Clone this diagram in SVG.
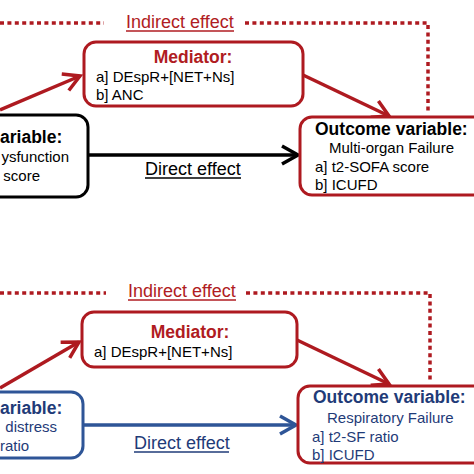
<svg xmlns="http://www.w3.org/2000/svg" width="474" height="474" viewBox="0 0 474 474">
<defs>
<style>
text{font-family:"Liberation Sans",Arial,sans-serif;}
.b{font-weight:bold;font-size:17.5px;}
.r{font-size:15px;}
.e{font-size:18px;}
.red{fill:#B01C22;}
.blk{fill:#000;}
.blu{fill:#1F3B78;}
.boxr{fill:#fff;stroke:#AE1A20;stroke-width:3;}
.boxk{fill:#fff;stroke:#000;stroke-width:3;}
.boxb{fill:#fff;stroke:#2E5597;stroke-width:3;}
.dot{fill:none;stroke:#AE1A20;stroke-width:3.5;stroke-dasharray:4 3.4;}
.ar{fill:none;stroke:#AE1A20;stroke-width:3.5;}
.ak{fill:none;stroke:#000;stroke-width:3.5;}
.ab{fill:none;stroke:#2E5597;stroke-width:3.5;}
.u{stroke-width:1.3;}
</style>
<marker id="mr" markerUnits="userSpaceOnUse" markerWidth="24" markerHeight="24" viewBox="0 0 24 24" refX="19" refY="12" orient="auto"><path d="M3,3 L19,12 L3,21" fill="none" stroke="#AE1A20" stroke-width="3.5"/></marker>
<marker id="mk" markerUnits="userSpaceOnUse" markerWidth="24" markerHeight="24" viewBox="0 0 24 24" refX="19" refY="12" orient="auto"><path d="M3,3 L19,12 L3,21" fill="none" stroke="#000" stroke-width="3.5"/></marker>
<marker id="mb" markerUnits="userSpaceOnUse" markerWidth="24" markerHeight="24" viewBox="0 0 24 24" refX="19" refY="12" orient="auto"><path d="M3,3 L19,12 L3,21" fill="none" stroke="#2E5597" stroke-width="3.5"/></marker>
</defs>
<rect width="474" height="474" fill="#fff"/>

<g id="connectors">
<path class="dot" d="M0,23 H104"/>
<path class="dot" d="M245,23 H428 V112"/>
<path class="ar" d="M0,110 L80,76" marker-end="url(#mr)"/>
<path class="ar" d="M303,75 L389,116" marker-end="url(#mr)"/>
<path class="ak" d="M88,155 L298,155" marker-end="url(#mk)"/>
<path class="dot" d="M0,293 H106"/>
<path class="dot" d="M246,293 H430 V380"/>
<path class="ar" d="M0,388 L79,342" marker-end="url(#mr)"/>
<path class="ar" d="M297,340 L389,384" marker-end="url(#mr)"/>
<path class="ab" d="M83,425 L296,425" marker-end="url(#mb)"/>
</g>

<g id="labels">
<text class="e red" x="126" y="28">Indirect effect</text>
<line x1="126" y1="31" x2="234" y2="31" stroke="#B01C22" class="u"/>
<text class="e blk" x="145" y="175">Direct effect</text>
<line x1="145" y1="178" x2="241" y2="178" stroke="#000" class="u"/>
<text class="e red" x="128" y="297">Indirect effect</text>
<line x1="128" y1="300" x2="236" y2="300" stroke="#B01C22" class="u"/>
<text class="e blu" x="134" y="449">Direct effect</text>
<line x1="134" y1="452" x2="229" y2="452" stroke="#1F3B78" class="u"/>
</g>

<g id="mediator1">
<rect class="boxr" x="84" y="42" width="219" height="64" rx="12"/>
<text class="b red" x="193" y="63" text-anchor="middle">Mediator:</text>
<text class="r blk" x="96" y="82">a] DEspR+[NET+Ns]</text>
<text class="r blk" x="96" y="100">b] ANC</text>
</g>

<g id="predictor1">
<rect class="boxk" x="-20" y="115" width="108" height="82" rx="12"/>
<text class="b blk" x="0" y="143">ariable:</text>
<text class="r blk" x="69" y="162" text-anchor="end">ysfunction</text>
<text class="r blk" x="40" y="181" text-anchor="end">score</text>
</g>

<g id="outcome1">
<rect class="boxr" x="300" y="117" width="200" height="78" rx="12"/>
<text class="b blk" x="315" y="135">Outcome variable:</text>
<text class="r blk" x="329" y="153">Multi-organ Failure</text>
<text class="r blk" x="315" y="172">a] t2-SOFA score</text>
<text class="r blk" x="315" y="190">b] ICUFD</text>
</g>

<g id="mediator2">
<rect class="boxr" x="82" y="312" width="215" height="55" rx="12"/>
<text class="b red" x="190" y="338" text-anchor="middle">Mediator:</text>
<text class="r blk" x="94" y="357">a] DEspR+[NET+Ns]</text>
</g>

<g id="predictor2">
<rect class="boxb" x="-20" y="392" width="103" height="66" rx="12"/>
<text class="b blu" x="0" y="414">ariable:</text>
<text class="r blu" x="57" y="432" text-anchor="end">distress</text>
<text class="r blu" x="0" y="451">ratio</text>
</g>

<g id="outcome2">
<rect class="boxr" x="298" y="386" width="200" height="77" rx="12"/>
<text class="b blu" x="313" y="403">Outcome variable:</text>
<text class="r blu" x="327" y="423">Respiratory Failure</text>
<text class="r blu" x="312" y="442">a] t2-SF ratio</text>
<text class="r blu" x="312" y="460">b] ICUFD</text>
</g>
</svg>
